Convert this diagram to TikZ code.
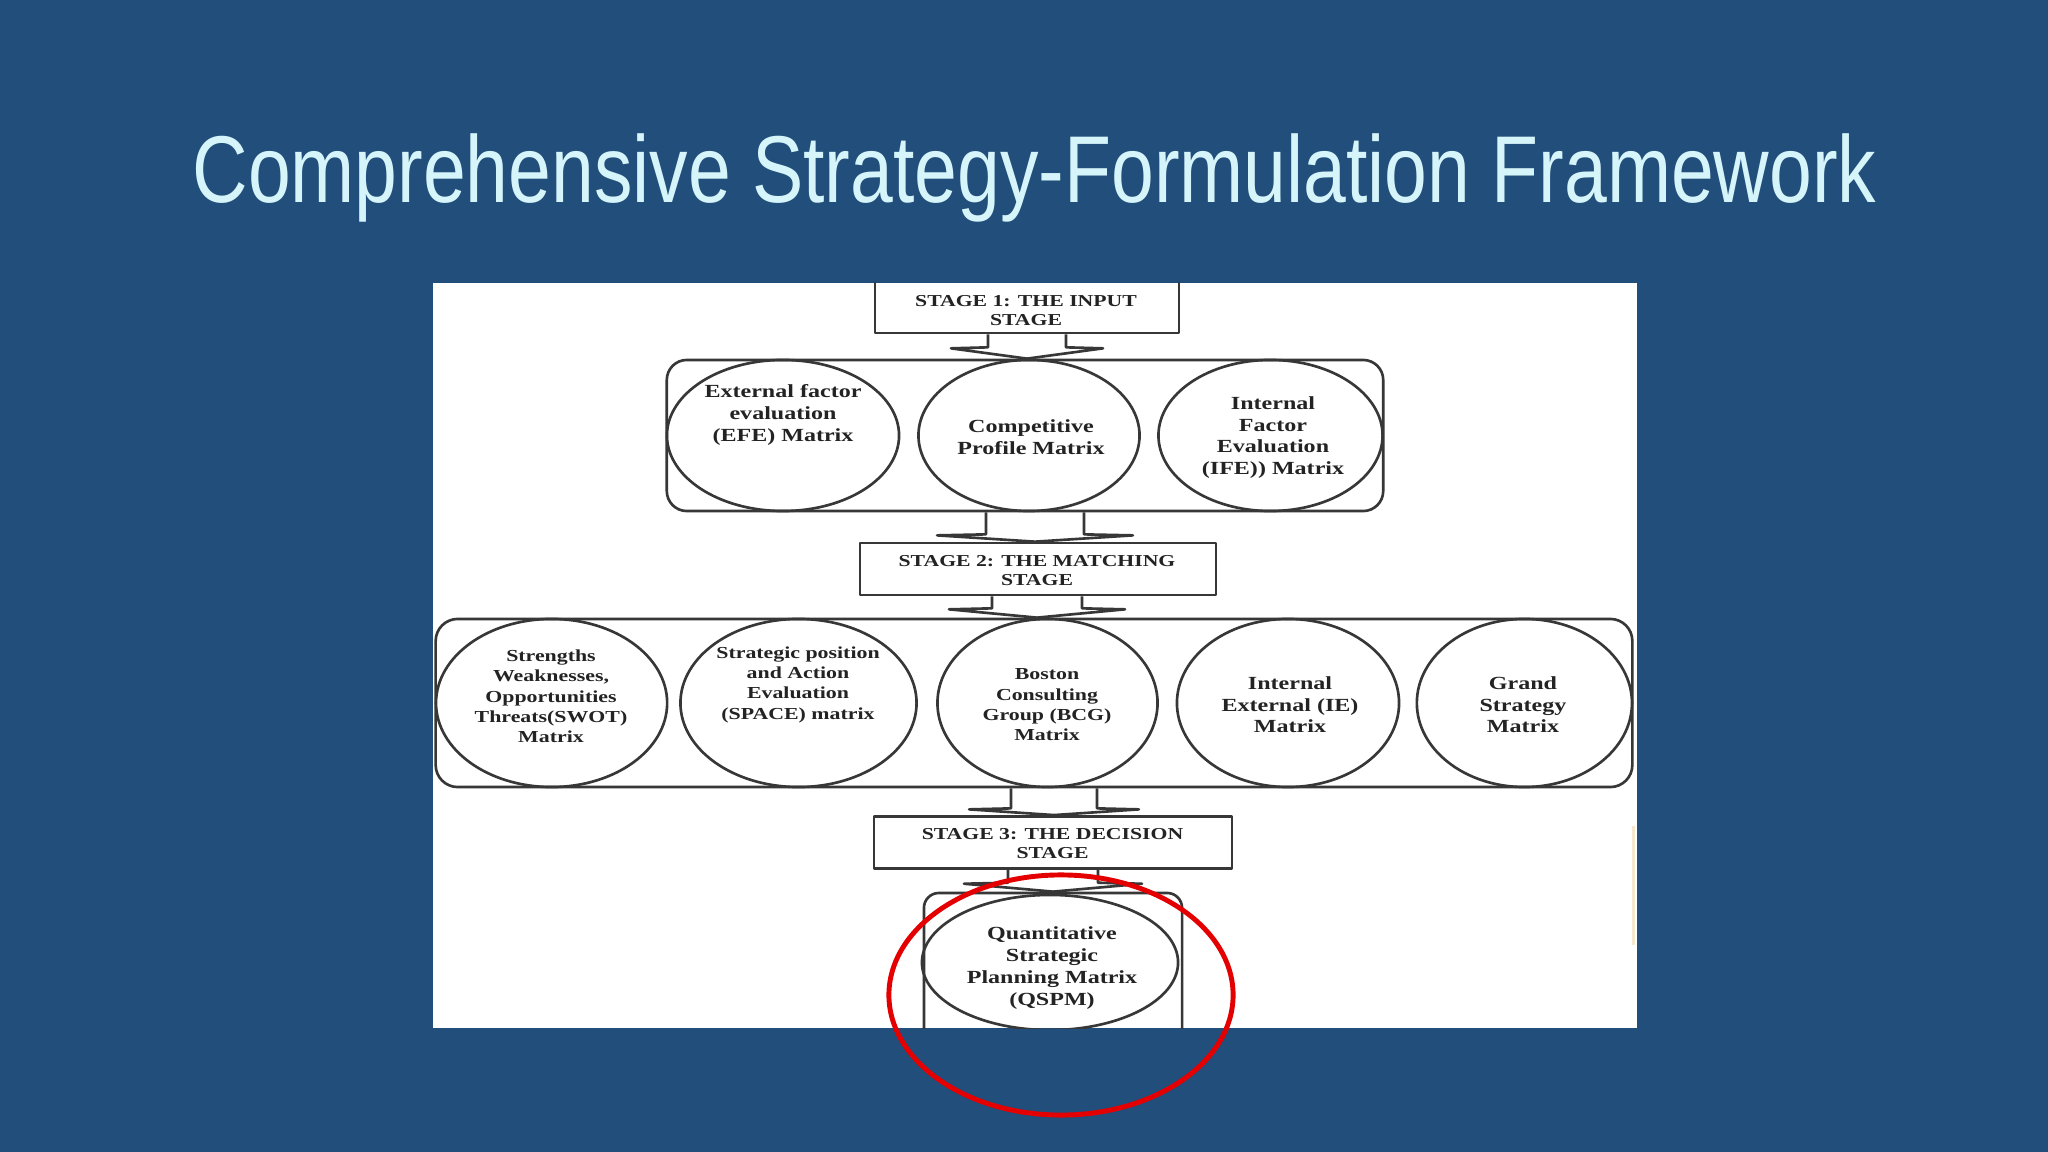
\documentclass[tikz,border=0pt]{standalone}
\usepackage{fontspec}
\usepackage{graphicx}
\usetikzlibrary{shapes.geometric,calc}
\newfontfamily\titlefont[FakeStretch=0.81]{Liberation Sans}
\newfontfamily\dfont[FakeStretch=1.3]{Liberation Serif}
\definecolor{bg}{RGB}{33,78,122}
\definecolor{titlecol}{RGB}{214,245,250}
\definecolor{ink}{RGB}{55,55,55}
\definecolor{txt}{RGB}{35,35,35}
\definecolor{ring}{RGB}{228,0,0}
\definecolor{beige}{RGB}{246,232,205}
\newcommand\barrow[6]{%
  \coordinate (bc) at ($(#1)+(#2,0)$);
  \draw[lineink] ($(bc)+(-#3,0)$) -- ++(0,#4) -- ($(bc)+(-#5,#4+1)$) -- (bc |- #6)
    -- ($(bc)+(#5,#4+1)$) -- ($(bc)+(#3,#4)$) -- ($(bc)+(#3,0)$);
}
\begin{document}
\begin{tikzpicture}[x=0.01cm,y=-0.01cm,
  lineink/.style={draw=ink, line width=0.75pt, line join=round},
  stagebox/.style={lineink, rectangle, inner sep=0pt},
  rowbox/.style={lineink, rectangle, rounded corners=0.2cm, inner sep=0pt},
  oval/.style={lineink, ellipse, inner sep=0pt},
  txtone/.style={text=txt, align=center, inner sep=0pt, font=\dfont\bfseries\fontsize{5.26pt}{6.17pt}\selectfont},
  txttwo/.style={text=txt, align=center, inner sep=0pt, font=\dfont\bfseries\fontsize{4.78pt}{5.78pt}\selectfont},
  stagetxt/.style={text=txt, align=center, inner sep=0pt, font=\dfont\bfseries\fontsize{4.75pt}{5.55pt}\selectfont},
]
\useasboundingbox (0,0) rectangle (2048,1152);
\fill[bg] (0,0) rectangle (2048,1152);
\node[text=titlecol, anchor=base, inner sep=0pt, font=\titlefont\fontsize{27pt}{27pt}\selectfont] (title) at (1034.5,203) {Comprehensive Strategy-Formulation Framework};
\node[fill=white, rectangle, inner sep=0pt, minimum width=12.04cm, minimum height=7.45cm] (panel) at (1035,655.5) {};
\draw[beige, line width=0.85pt] (1633,826) -- (1633,945);
\begin{scope}
\clip (433,283) rectangle (1637,1028);
% stage 1
\node[stagebox, minimum width=3.04cm, minimum height=0.73cm] (s1) at (1027,296.5) {};
\node[stagetxt] (s1t) at (1026,310.4) {STAGE 1: THE INPUT\\STAGE};
% row 1
\node[rowbox, minimum width=7.16cm, minimum height=1.51cm] (r1) at (1025,435.5) {};
\node[oval, minimum width=2.32cm, minimum height=1.51cm] (efe) at (783,435.5) {};
\node[oval, minimum width=2.21cm, minimum height=1.51cm] (cpm) at (1029,435.5) {};
\node[oval, minimum width=2.24cm, minimum height=1.51cm] (ife) at (1270.5,435.5) {};
\node[txtone] (efet) at (783,415) {External factor\\evaluation\\(EFE) Matrix};
\node[txtone] (cpmt) at (1031,437.5) {Competitive\\Profile Matrix};
\node[txtone] (ifet) at (1273,437.5) {Internal\\Factor\\Evaluation\\(IFE)) Matrix};
% stage 2
\node[stagebox, minimum width=3.56cm, minimum height=0.52cm] (s2) at (1038,569) {};
\node[stagetxt] (s2t) at (1037,570.5) {STAGE 2: THE MATCHING\\STAGE};
% row 2
\node[rowbox, rounded corners=0.22cm, minimum width=11.96cm, minimum height=1.68cm] (r2) at (1034,703) {};
\node[oval, minimum width=2.31cm, minimum height=1.68cm] (swot) at (551.6,703) {};
\node[oval, minimum width=2.36cm, minimum height=1.68cm] (space) at (798.5,703) {};
\node[oval, minimum width=2.20cm, minimum height=1.68cm] (bcg) at (1047.5,703) {};
\node[oval, minimum width=2.22cm, minimum height=1.68cm] (ie) at (1288,703) {};
\node[oval, minimum width=2.15cm, minimum height=1.68cm] (grand) at (1524.4,703) {};
\node[txttwo] (swott) at (551,696.5) {Strengths\\Weaknesses,\\Opportunities\\Threats(SWOT)\\Matrix};
\node[txttwo] (spacet) at (798,684.5) {Strategic position\\and Action\\Evaluation\\(SPACE) matrix};
\node[txttwo] (bcgt) at (1047,705) {Boston\\Consulting\\Group (BCG)\\Matrix};
\node[txtone] (iet) at (1290,704.7) {Internal\\External (IE)\\Matrix};
\node[txtone] (grandt) at (1523,704.7) {Grand\\Strategy\\Matrix};
% stage 3
\node[stagebox, minimum width=3.58cm, minimum height=0.52cm] (s3) at (1053,842.4) {};
\node[stagetxt] (s3t) at (1052.5,843.7) {STAGE 3: THE DECISION\\STAGE};
% QSPM
\node[rowbox, rounded corners=0.15cm, minimum width=2.58cm, minimum height=1.60cm] (r3) at (1053,973) {};
\node[oval, minimum width=2.56cm, minimum height=1.35cm] (qspm) at (1050,962.5) {};
\node[txtone, font=\dfont\bfseries\fontsize{5.26pt}{6.23pt}\selectfont] (qspmt) at (1052,968) {Quantitative\\Strategic\\Planning Matrix\\(QSPM)};
% block arrows
\barrow{s1.south}{0}{39}{13}{76}{r1.north}
\barrow{r1.south}{10}{49}{22}{98}{s2.north}
\barrow{s2.south}{-1}{45}{12}{88}{r2.north}
\barrow{r2.south}{20}{43}{20}{85}{s3.north}
\barrow{s3.south}{0}{45}{13}{89}{r3.north}
\end{scope}
\node[draw=ring, line width=1.4pt, ellipse, inner sep=0pt, minimum width=3.44cm, minimum height=2.40cm] (redring) at (1061,995) {};
\end{tikzpicture}
\end{document}
